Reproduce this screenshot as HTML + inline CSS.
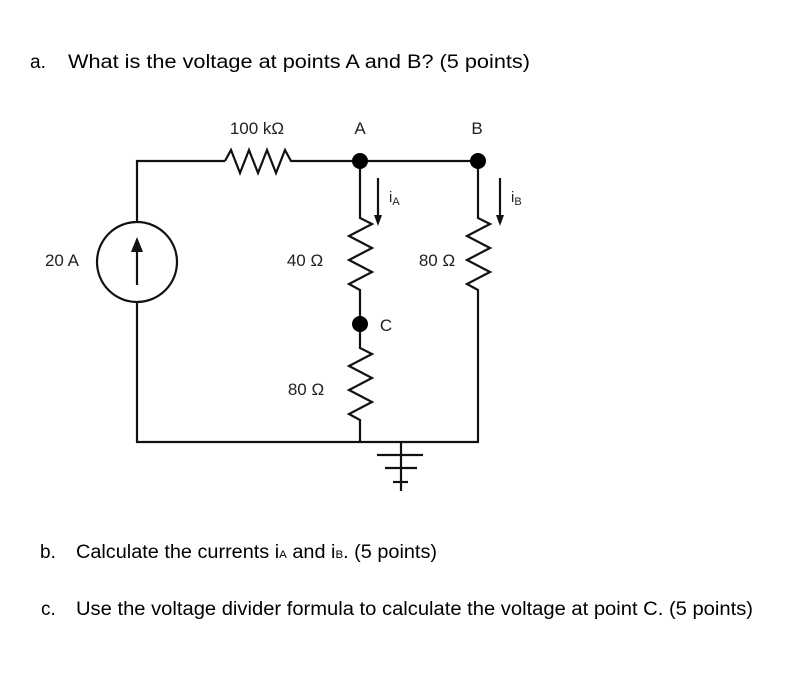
<!DOCTYPE html>
<html><head><style>body{margin:0;background:#fff}svg{display:block}</style></head>
<body>
<svg width="805" height="681" viewBox="0 0 805 681" xmlns="http://www.w3.org/2000/svg">
<g font-family="Liberation Sans, sans-serif" font-size="19" fill="#000">
<text x="30" y="68">a.</text>
<text x="68" y="68" textLength="462" lengthAdjust="spacingAndGlyphs">What is the voltage at points A and B? (5 points)</text>
<text x="40" y="558">b.</text>
<text x="76" y="558" textLength="361" lengthAdjust="spacingAndGlyphs">Calculate the currents i<tspan font-size="11">A</tspan> and i<tspan font-size="11">B</tspan>. (5 points)</text>
<text x="41" y="615">c.</text>
<text x="76" y="615" textLength="677" lengthAdjust="spacingAndGlyphs">Use the voltage divider formula to calculate the voltage at point C. (5 points)</text>
</g>
<g stroke="#111" stroke-width="2.2" fill="none" stroke-linejoin="miter">
<polyline points="137,222 137,161 225,161"/>
<polyline points="225,161 231,150 240,173 249,150 258,173 267,150 276,173 285,150 291,161 478,161"/>
<circle cx="137" cy="262" r="40"/>
<line x1="137" y1="302" x2="137" y2="442"/>
<line x1="137" y1="285" x2="137" y2="245"/>
<polyline points="360,161 360,218 372,224 349,236 372,248 349,260 372,272 349,284 360,290 360,324"/>
<polyline points="360,324 360,348 372,354 349,366 372,378 349,390 372,402 349,414 360,420 360,442"/>
<polyline points="478,161 478,218 490,224 467,236 490,248 467,260 490,272 467,284 478,290 478,442"/>
<line x1="136" y1="442" x2="479" y2="442"/>
<line x1="401" y1="442" x2="401" y2="491"/>
<line x1="377" y1="455" x2="423" y2="455"/>
<line x1="385" y1="468" x2="417" y2="468"/>
<line x1="393" y1="482" x2="408" y2="482"/>
<line x1="378" y1="178" x2="378" y2="222"/>
<line x1="500" y1="178" x2="500" y2="222"/>
</g>
<polygon points="137,237 131,252 143,252" fill="#111"/>
<polygon points="378,226 374,215 382,215" fill="#111"/>
<polygon points="500,226 496,215 504,215" fill="#111"/>
<circle cx="360" cy="161" r="8" fill="#000"/>
<circle cx="478" cy="161" r="8" fill="#000"/>
<circle cx="360" cy="324" r="8" fill="#000"/>
<g font-family="Liberation Sans, DejaVu Sans, sans-serif" font-size="17" fill="#222">
<text x="257" y="134" text-anchor="middle">100 kΩ</text>
<text x="360" y="134" text-anchor="middle">A</text>
<text x="477" y="134" text-anchor="middle">B</text>
<text x="62" y="266" text-anchor="middle">20 A</text>
<text x="305" y="266" text-anchor="middle">40 Ω</text>
<text x="437" y="266" text-anchor="middle">80 Ω</text>
<text x="306" y="395" text-anchor="middle">80 Ω</text>
<text x="386" y="331" text-anchor="middle">C</text>
<text x="389" y="202" font-size="15">i<tspan font-size="11" dy="3">A</tspan></text>
<text x="511" y="202" font-size="15">i<tspan font-size="11" dy="3">B</tspan></text>
</g>
</svg>
</body></html>
